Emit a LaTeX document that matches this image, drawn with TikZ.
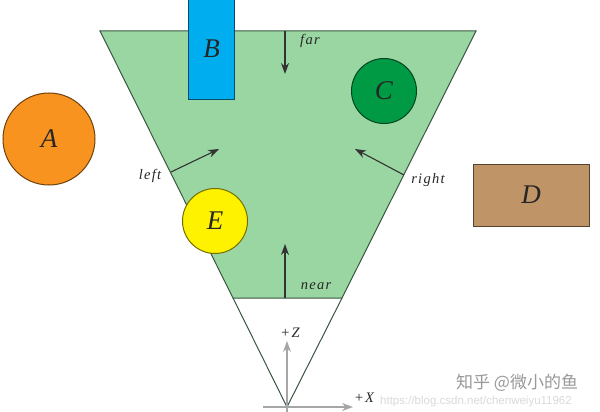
\documentclass[tikz,border=0pt]{standalone}
\usepackage{fontspec}
\setmainfont{Liberation Serif}
\newfontfamily\cjkf{Noto Sans CJK SC}
\newfontfamily\sansf{Liberation Sans}
\newfontfamily\spacedit[ItalicFont=Liberation Serif Italic,LetterSpace=9]{Liberation Serif}
\usetikzlibrary{arrows.meta}
\definecolor{frustum}{HTML}{9AD6A2}
\definecolor{edgeline}{HTML}{3A5540}
\definecolor{orangeA}{HTML}{F7931E}
\definecolor{blueB}{HTML}{00AEEF}
\definecolor{greenC}{HTML}{009A44}
\definecolor{brownD}{HTML}{BF9467}
\definecolor{yellowE}{HTML}{FFF200}
\definecolor{axisgray}{HTML}{A6A6A6}
\definecolor{markgray}{HTML}{DADADA}
\tikzset{
  objround/.style={circle,draw=#1!45!black,line width=1pt,inner sep=0pt,font=\itshape\fontsize{27}{27}\selectfont,text=black!85},
  objrect/.style={rectangle,draw=#1!45!black,line width=1pt,inner sep=0pt,font=\itshape\fontsize{27}{27}\selectfont,text=black!85},
  planearrow/.style={draw=black!80,line width=1.1pt,-{Stealth[length=11pt,width=8pt]}},
  axisarrow/.style={draw=axisgray,line width=1.1pt,-{Stealth[length=11pt,width=8pt]}},
  planelabel/.style={font=\spacedit\itshape\fontsize{14.5}{15}\selectfont,text=black!85,inner sep=0pt},
  markstyle/.style={text=markgray,inner sep=0pt}
}
\begin{document}
\begin{tikzpicture}[x=1pt,y=-1pt]
\useasboundingbox (0,0) rectangle (600,412);
\fill[white] (0,0) rectangle (600,412);
% named corners
\coordinate (tl) at (100,31);
\coordinate (tr) at (476,31);
\coordinate (nl) at (233,298);
\coordinate (nr) at (342,298);
\coordinate (eye) at (287,407);
\coordinate (xl) at (263,407);
\coordinate (xr) at (353,407);
\coordinate (zb) at (287,412);
\coordinate (zt) at (287,341);
\coordinate (farS) at (285,31);
\coordinate (farE) at (285,74);
\coordinate (nearS) at (285,298);
\coordinate (nearE) at (285,244);
\coordinate (leftS) at (171,172);
\coordinate (leftE) at (219,149);
\coordinate (rightS) at (404,175);
\coordinate (rightE) at (355,149);
% frustum
\fill[frustum] (tl) -- (tr) -- (nr) -- (nl) -- cycle;
\draw[edgeline,line width=1pt] (nl) -- (tl) -- (tr) -- (nr) -- cycle;
\draw[edgeline,line width=1pt] (nl) -- (eye) -- (nr);
% watermarks
\node[markstyle,anchor=west,font=\sansf\fontsize{11.5}{12}\selectfont] (wmurl) at (380,402) {https://blog.csdn.net/chenweiyu11962};
\node[markstyle,anchor=west,text=black!40,font=\cjkf\fontsize{17}{17}\selectfont] (wmcn) at (456,383) {知乎 @微小的鱼};
% axes
\draw[axisarrow] (xl) -- (xr);
\draw[axisarrow] (zb) -- (zt);
% arrows
\draw[planearrow] (farS) -- (farE);
\draw[planearrow] (nearS) -- (nearE);
\draw[planearrow] (leftS) -- (leftE);
\draw[planearrow] (rightS) -- (rightE);
% objects
\node[objround=orangeA,fill=orangeA,minimum size=92pt] (A) at (49,139) {A};
\node[objrect=blueB,fill=blueB,minimum width=46pt,minimum height=102pt] (B) at (211.5,48.5) {B};
\node[objround=greenC,fill=greenC,minimum size=65pt] (C) at (384,91) {C};
\node[objrect=brownD,fill=brownD,minimum width=116pt,minimum height=62pt] (D) at (531,195) {D};
\node[objround=yellowE,fill=yellowE,minimum size=65pt] (E) at (215,221) {E};
% labels
\node[planelabel] (lfar) at (310,41) {far};
\node[planelabel] (lnear) at (316,286) {near};
\node[planelabel] (lleft) at (150,176) {left};
\node[planelabel] (lright) at (428,180) {right};
\node[planelabel] (lz) at (290,333) {+Z};
\node[planelabel] (lx) at (364,398) {+X};
\end{tikzpicture}
\end{document}
